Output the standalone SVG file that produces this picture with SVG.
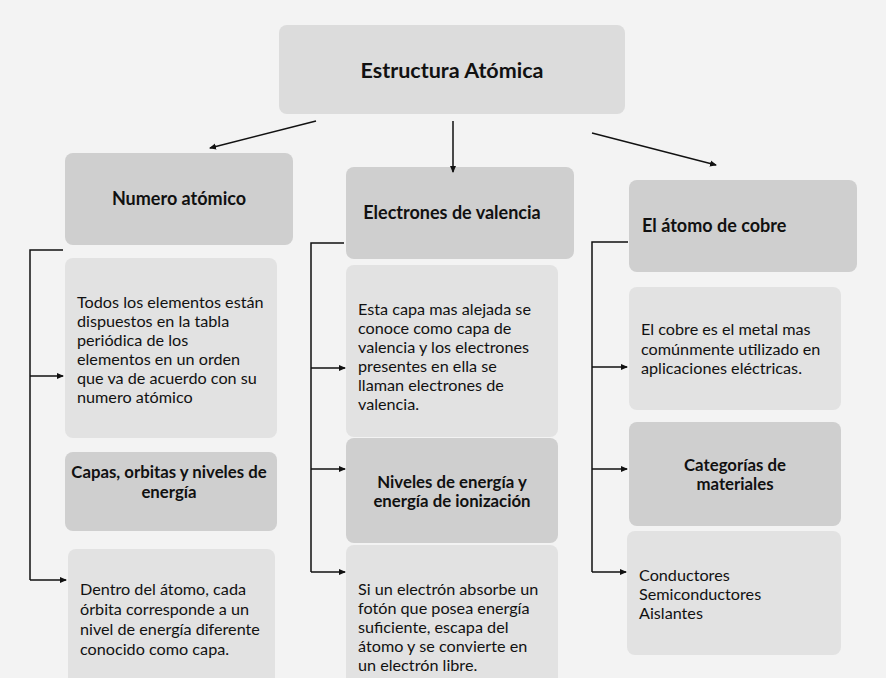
<svg xmlns="http://www.w3.org/2000/svg" width="886" height="678" viewBox="0 0 886 678">
<style>
.h{fill:#cfcfcf}.b{fill:#e2e2e2}
text{font-family:Lato,"Open Sans",sans-serif;fill:#111}
.t{font-size:16.2px}
.hd{font-size:18px;font-weight:bold;text-anchor:middle}
.c{fill:none;stroke:#111;stroke-width:1.5}
</style>
<defs><marker id="a" markerWidth="8" markerHeight="8" refX="6" refY="4" orient="auto" markerUnits="userSpaceOnUse"><path d="M0,1 L7,4 L0,7z" fill="#111"/></marker></defs>
<rect width="886" height="678" fill="#f3f3f3"/>
<g id="root"><rect x="279" y="25" width="346" height="89" rx="8" fill="#dcdcdc"/><text x="452" y="78" class="hd" style="font-size:21.5px">Estructura Atómica</text></g>
<g id="n1"><rect x="65" y="153" width="228" height="92" rx="8" class="h"/><text x="179" y="205" class="hd">Numero atómico</text></g>
<g id="n1a"><rect x="65" y="258" width="212" height="180" rx="8" class="b"/><text class="t"><tspan x="77" y="308">Todos los elementos están</tspan><tspan x="77" y="327">dispuestos en la tabla</tspan><tspan x="77" y="346">periódica de los</tspan><tspan x="77" y="365">elementos en un orden</tspan><tspan x="77" y="384">que va de acuerdo con su</tspan><tspan x="77" y="403">numero atómico</tspan></text></g>
<g id="n1b"><rect x="65" y="452" width="212" height="79" rx="8" class="h"/><text class="hd" style="font-size:16.8px"><tspan x="169" y="478">Capas, orbitas y niveles de</tspan><tspan x="169" y="498">energía</tspan></text></g>
<g id="n1c"><rect x="68" y="549" width="207" height="140" rx="8" class="b"/><text class="t"><tspan x="80" y="595">Dentro del átomo, cada</tspan><tspan x="80" y="615">órbita corresponde a un</tspan><tspan x="80" y="635">nivel de energía diferente</tspan><tspan x="80" y="655">conocido como capa.</tspan></text></g>
<g id="n2"><rect x="346" y="167" width="228" height="92" rx="8" class="h"/><text x="452" y="219" class="hd">Electrones de valencia</text></g>
<g id="n2a"><rect x="346" y="265" width="212" height="172" rx="8" class="b"/><text class="t"><tspan x="358" y="315">Esta capa mas alejada se</tspan><tspan x="358" y="334">conoce como capa de</tspan><tspan x="358" y="353">valencia y los electrones</tspan><tspan x="358" y="372">presentes en ella se</tspan><tspan x="358" y="391">llaman electrones de</tspan><tspan x="358" y="410">valencia.</tspan></text></g>
<g id="n2b"><rect x="346" y="438" width="212" height="105" rx="8" class="h"/><text class="hd" style="font-size:16.8px"><tspan x="452" y="488">Niveles de energía y</tspan><tspan x="452" y="507">energía de ionización</tspan></text></g>
<g id="n2c"><rect x="346" y="545" width="212" height="145" rx="8" class="b"/><text class="t"><tspan x="358" y="595">Si un electrón absorbe un</tspan><tspan x="358" y="614">fotón que posea energía</tspan><tspan x="358" y="633">suficiente, escapa del</tspan><tspan x="358" y="652">átomo y se convierte en</tspan><tspan x="358" y="671">un electrón libre.</tspan></text></g>
<g id="n3"><rect x="629" y="180" width="228" height="92" rx="8" class="h"/><text x="642" y="232" class="hd" style="text-anchor:start">El átomo de cobre</text></g>
<g id="n3a"><rect x="629" y="287" width="212" height="123" rx="8" class="b"/><text class="t"><tspan x="641" y="335">El cobre es el metal mas</tspan><tspan x="641" y="355">comúnmente utilizado en</tspan><tspan x="641" y="374">aplicaciones eléctricas.</tspan></text></g>
<g id="n3b"><rect x="629" y="422" width="212" height="104" rx="8" class="h"/><text class="hd" style="font-size:16.8px"><tspan x="735" y="471">Categorías de</tspan><tspan x="735" y="490">materiales</tspan></text></g>
<g id="n3c"><rect x="627" y="531" width="214" height="124" rx="8" class="b"/><text class="t"><tspan x="639" y="581">Conductores</tspan><tspan x="639" y="600">Semiconductores</tspan><tspan x="639" y="619">Aislantes</tspan></text></g>
<g id="connectors">
<line x1="316" y1="121" x2="210" y2="148" class="c" marker-end="url(#a)"/>
<line x1="453" y1="121" x2="453" y2="172" class="c" marker-end="url(#a)"/>
<line x1="592" y1="133" x2="716" y2="165" class="c" marker-end="url(#a)"/>
<path d="M63,250 H30 V580" class="c"/>
<line x1="30" y1="376" x2="63" y2="376" class="c" marker-end="url(#a)"/>
<line x1="30" y1="580" x2="66" y2="580" class="c" marker-end="url(#a)"/>
<path d="M344,243 H311 V572" class="c"/>
<line x1="311" y1="368" x2="345" y2="368" class="c" marker-end="url(#a)"/>
<line x1="311" y1="469" x2="345" y2="469" class="c" marker-end="url(#a)"/>
<line x1="311" y1="572" x2="345" y2="572" class="c" marker-end="url(#a)"/>
<path d="M628,242 H592 V572" class="c"/>
<line x1="592" y1="367" x2="627" y2="367" class="c" marker-end="url(#a)"/>
<line x1="592" y1="469" x2="627" y2="469" class="c" marker-end="url(#a)"/>
<line x1="592" y1="572" x2="626" y2="572" class="c" marker-end="url(#a)"/>
</g>
</svg>
